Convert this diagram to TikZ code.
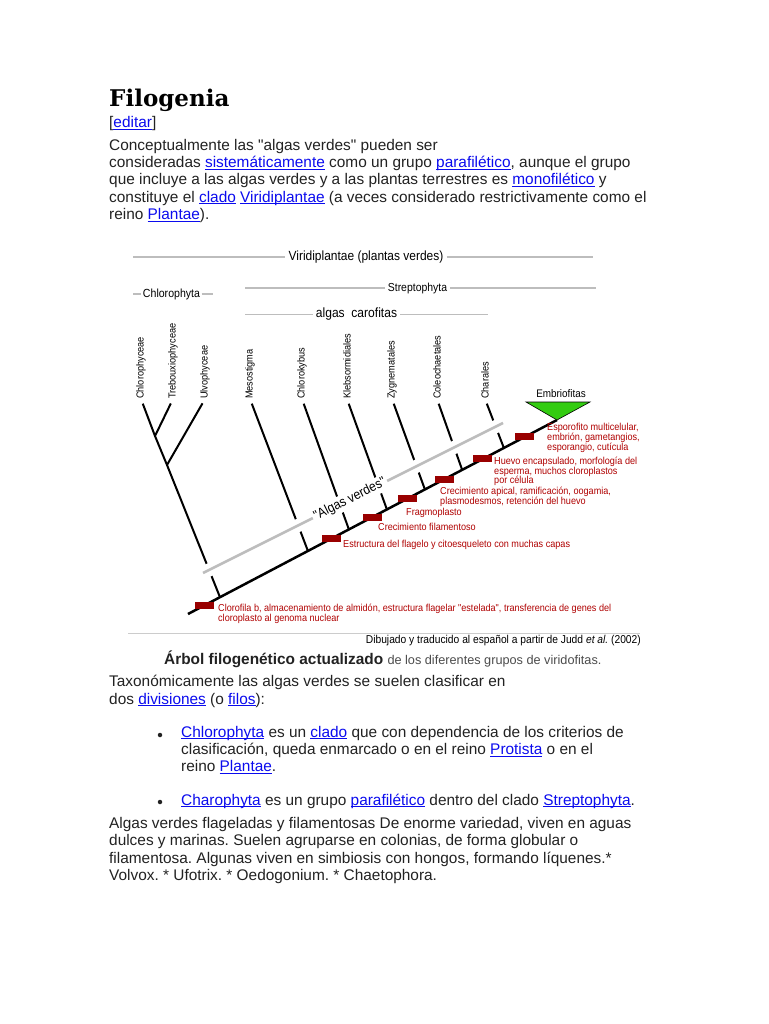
\documentclass[tikz,border=0pt]{standalone}
\usepackage{fontspec}
\usepackage{tikz}
\usepackage{xcolor}
\usetikzlibrary{calc}
\setmainfont{Liberation Sans}[Ligatures=TeXOff]
\newfontfamily\headfont{DejaVu Serif}
\newfontfamily\diagfont{Liberation Sans}[FakeStretch=0.9,Ligatures=TeXOff]
\definecolor{bodytext}{HTML}{222222}
\definecolor{linkblue}{HTML}{0B0BEE}
\definecolor{markred}{HTML}{990000}
\definecolor{notered}{HTML}{B00000}
\definecolor{cladegray}{HTML}{BDBDBD}
\definecolor{embgreen}{HTML}{33CC11}
\newsavebox\lkbox
\newcommand{\lk}[1]{{\color{linkblue}\sbox\lkbox{#1}\rlap{\rule[-0.14em]{\wd\lkbox}{0.065em}}\usebox\lkbox}}
\frenchspacing

\begin{document}
\begin{tikzpicture}[x=1pt,y=-1pt,
  body/.style={anchor=west,align=left,inner sep=0pt,text=bodytext,font=\fontsize{15.4}{17.3}\selectfont},
  bullet/.style={circle,fill=bodytext,minimum size=4.5pt,inner sep=0pt},
  taxon/.style={rotate=90,anchor=west,inner sep=0pt,font=\diagfont\fontsize{10.2}{12}\selectfont},
  cladetag/.style={inner sep=3pt,font=\diagfont\fontsize{#1}{14}\selectfont},
  cladeline/.style={cladegray,line width=1.3pt},
  branch/.style={line width=2pt,shorten <=5pt},
  synapo/.style={fill=markred,minimum width=19pt,minimum height=7pt,inner sep=0pt},
  note/.style={anchor=west,align=left,inner sep=0pt,text=notered,font=\diagfont\fontsize{10.1}{9.7}\selectfont}]
\fill[white] (0,0) rectangle (768,1024);
\useasboundingbox (0,0) rectangle (768,1024);

% page text above the tree
\node[anchor=base west,inner sep=0pt,font=\headfont\bfseries\fontsize{23}{28}\selectfont] (title) at (109,107) {Filogenia};
\node[body] (edit) at (109,124) {[\lk{editar}]};
\node[body] (intro) at (109,180.8) {Conceptualmente las "algas verdes" pueden ser\\
consideradas \lk{sistemáticamente} como un grupo \lk{parafilético}, aunque el grupo\\
que incluye a las algas verdes y a las plantas terrestres es \lk{monofilético} y\\
constituye el \lk{clado} \lk{Viridiplantae} (a veces considerado restrictivamente como el\\
reino \lk{Plantae}).};

% clade headings
\node[cladetag=13.3] (viri) at (366,257) {Viridiplantae (plantas verdes)};
\node[cladetag=11.75,inner sep=1.5pt] (chlp) at (171.5,294) {Chlorophyta};
\node[cladetag=11.6] (strp) at (417.5,288) {Streptophyta};
\node[cladetag=13.4] (caro) at (356.5,314.5) {algas\ \ carofitas};
\coordinate (viriL) at (133,257); \coordinate (viriR) at (593,257);
\coordinate (chlpL) at (133,294); \coordinate (chlpR) at (213,294);
\coordinate (strpL) at (245,288); \coordinate (strpR) at (596,288);
\coordinate (caroL) at (245,314.5); \coordinate (caroR) at (488,314.5);
\draw[cladeline] (viriL) -- (viri.west) (viri.east) -- (viriR);
\draw[cladeline] (chlpL) -- (chlp.west) (chlp.east) -- (chlpR);
\draw[cladeline] (strpL) -- (strp.west) (strp.east) -- (strpR);
\draw[cladeline] (caroL) -- (caro.west) (caro.east) -- (caroR);

% taxa
\node[taxon] (tchl) at (141,399) {Chlorophyceae};
\node[taxon] (ttre) at (173,399) {Trebouxiophyceae};
\node[taxon] (tulv) at (205,399) {Ulvophyceae};
\node[taxon] (tmes) at (250,399) {Mesostigma};
\node[taxon] (tkyb) at (302,399) {Chlorokybus};
\node[taxon] (tkle) at (347,399) {Klebsormidiales};
\node[taxon] (tzyg) at (392,399) {Zygnematales};
\node[taxon] (tcol) at (437,399) {Coleochaetales};
\node[taxon] (tcha) at (485,399) {Charales};

% backbone and branch points
\coordinate (root) at (188,614); \coordinate (tip) at (557,420);
\coordinate (bchl) at ($(root)!0.0867!(tip)$);
\coordinate (bmes) at ($(root)!0.325!(tip)$);
\coordinate (bkyb) at ($(root)!0.436!(tip)$);
\coordinate (bkle) at ($(root)!0.539!(tip)$);
\coordinate (bzyg) at ($(root)!0.642!(tip)$);
\coordinate (bcol) at ($(root)!0.743!(tip)$);
\coordinate (bcha) at ($(root)!0.856!(tip)$);
\coordinate (j1) at (155,436); \coordinate (j2) at (167,465);

\draw[branch] (tchl.west) -- (j1) -- (j2) -- (bchl);
\draw[branch] (ttre.west) -- (j1);
\draw[branch] (tulv.west) -- (j2);
\draw[branch] (tmes.west) -- (bmes);
\draw[branch] (tkyb.west) -- (bkyb);
\draw[branch] (tkle.west) -- (bkle);
\draw[branch] (tzyg.west) -- (bzyg);
\draw[branch] (tcol.west) -- (bcol);
\draw[branch] (tcha.west) -- (bcha);

% "Algas verdes" grade
\coordinate (gl) at (203,573); \coordinate (gr) at (503,423);
\draw[white,line width=13pt] (gl) -- (gr);
\draw[cladegray,line width=2.5pt] (gl) -- (gr);
\node[fill=white,rotate=26.57,inner sep=2pt,font=\diagfont\fontsize{13.5}{14}\selectfont] (algv) at ($(gl)!0.49!(gr)$) {"Algas verdes"};

\draw[line width=2.5pt] (root) -- (tip);
\filldraw[fill=embgreen,draw=black,line width=0.6pt] (tip) -- ++(-31,-18) -- ++(64,0) -- cycle;
\node[font=\diagfont\fontsize{11}{12}\selectfont] (emb) at (561,394) {Embriofitas};

% synapomorphies
\node[synapo] (s1) at ($(root)!0.0447!(tip)$) {};
\node[synapo] (s2) at ($(root)!0.390!(tip)$) {};
\node[synapo] (s3) at ($(root)!0.499!(tip)$) {};
\node[synapo] (s4) at ($(root)!0.596!(tip)$) {};
\node[synapo] (s5) at ($(root)!0.694!(tip)$) {};
\node[synapo] (s6) at ($(root)!0.799!(tip)$) {};
\node[synapo] (s7) at ($(root)!0.913!(tip)$) {};
\node[note] (n1) at (218,613.5) {Clorofila b, almacenamiento de almidón, estructura flagelar "estelada", transferencia de genes del\\cloroplasto al genoma nuclear};
\node[note] (n2) at (343,545) {Estructura del flagelo y citoesqueleto con muchas capas};
\node[note] (n3) at (378,526.5) {Crecimiento filamentoso};
\node[note] (n4) at (406,513) {Fragmoplasto};
\node[note] (n5) at (440,497) {Crecimiento apical, ramificación, oogamia,\\plasmodesmos, retención del huevo};
\node[note] (n6) at (494,471.5) {Huevo encapsulado, morfología del\\esperma, muchos cloroplastos\\por célula};
\node[note] (n7) at (547,438) {Esporofito multicelular,\\embrión, gametangios,\\esporangio, cutícula};

% credit and caption
\coordinate (sepL) at (128,633); \coordinate (sepR) at (640,633);
\draw[black!20,line width=1pt] (sepL) -- (sepR);
\node[anchor=east,inner sep=0pt,font=\diagfont\fontsize{11.4}{12}\selectfont] (credit) at (641,641) {Dibujado y traducido al español a partir de Judd \textit{et al.} (2002)};
\node[anchor=west,inner sep=0pt,text=bodytext] (caption) at (164,659) {\fontsize{15.4}{17}\selectfont\bfseries Árbol filogenético actualizado \mdseries\fontsize{12.7}{14}\selectfont\color{black!70}de los diferentes grupos de viridofitas.};

% page text below the tree
\node[body] (taxo) at (109,691.5) {Taxonómicamente las algas verdes se suelen clasificar en\\dos \lk{divisiones} (o \lk{filos}):};
\node[bullet] (dot1) at (160,735) {};
\node[body] (chlo) at (181,750) {\lk{Chlorophyta} es un \lk{clado} que con dependencia de los criterios de\\clasificación, queda enmarcado o en el reino \lk{Protista} o en el\\reino \lk{Plantae}.};
\node[bullet] (dot2) at (160,802) {};
\node[body] (charo) at (181,801) {\lk{Charophyta} es un grupo \lk{parafilético} dentro del clado \lk{Streptophyta}.};
\node[body] (algas) at (109,850.5) {Algas verdes flageladas y filamentosas De enorme variedad, viven en aguas\\dulces y marinas. Suelen agruparse en colonias, de forma globular o\\filamentosa. Algunas viven en simbiosis con hongos, formando líquenes.*\\Volvox. * Ufotrix. * Oedogonium. * Chaetophora.};
\end{tikzpicture}
\end{document}
